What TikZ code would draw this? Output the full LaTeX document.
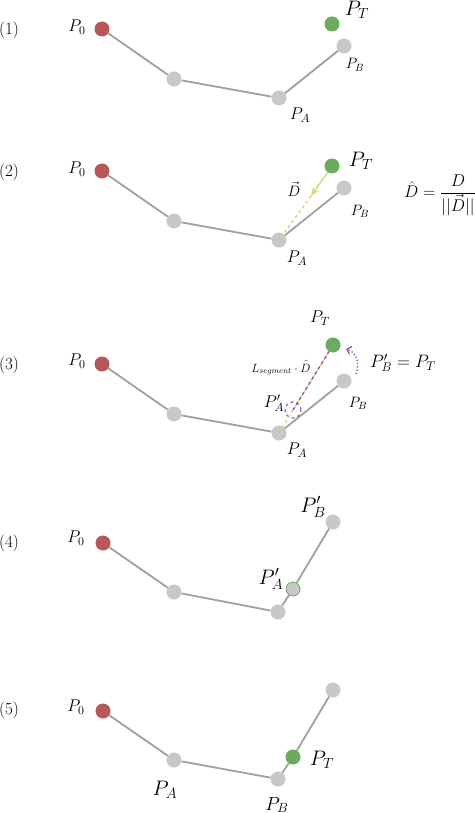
\RequirePackage{fix-cm}
\documentclass[tikz,border=0pt]{standalone}
\usetikzlibrary{arrows.meta}
\definecolor{basered}{RGB}{181,88,88}
\definecolor{goalgreen}{RGB}{108,170,96}
\definecolor{jointgray}{RGB}{200,200,200}
\definecolor{linkgray}{RGB}{160,160,160}
\definecolor{diryellow}{RGB}{224,214,108}
\definecolor{stepviolet}{RGB}{140,82,190}
\tikzset{
	joint/.style={circle, fill=jointgray, minimum size=15pt, inner sep=0pt},
	basejoint/.style={joint, fill=basered},
	goal/.style={joint, fill=goalgreen},
	link/.style={draw=linkgray, line width=1.8pt},
	lbl/.style={inner sep=0pt, font=\fontsize{17}{19}\selectfont},
	lblsmall/.style={lbl, font=\fontsize{15}{17}\selectfont},
	lblbig/.style={lbl, font=\fontsize{21}{23}\selectfont}
}

\begin{document}
\begin{tikzpicture}[x=1pt, y=-1pt]
	%%%%% START %%%%%
	\useasboundingbox (0, 0) rectangle (474, 813);
	
	% (1)
	\node[lbl] (n1) at (9, 30) {(1)};
	\node[basejoint] (a0) at (102, 29) {};
	\node[joint] (a1) at (174, 79) {};
	\node[joint] (aA) at (279, 98) {};
	\node[joint] (aB) at (344, 46) {};
	\node[goal] (aT) at (332, 24) {};
	\draw[link] (a0) -- (a1) -- (aA) -- (aB);
	\node[lbl] (la0) at (77, 27) {$P_0$};
	\node[lblbig] (laT) at (357, 10) {$P_T$};
	\node[lblsmall] (laB) at (355, 65) {$P_B$};
	\node[lbl] (laA) at (300, 115) {$P_A$};
	
	% (2)
	\node[lbl] (n2) at (9, 172) {(2)};
	\node[basejoint] (b0) at (102, 171) {};
	\node[joint] (b1) at (174, 221) {};
	\node[joint] (bA) at (279, 240) {};
	\node[joint] (bB) at (344, 188) {};
	\node[goal] (bT) at (332, 166) {};
	\draw[link] (b0) -- (b1) -- (bA) -- (bB);
	\coordinate (bD) at (311, 196);
	\draw[diryellow, line width=1.4pt, -{Stealth[length=9pt, width=7pt]}] (bT) -- (bD);
	\draw[diryellow, line width=1.4pt, dashed] (bD) -- (bA.center);
	\node[lbl] (lb0) at (77, 169) {$P_0$};
	\node[lblsmall] (lbD) at (294, 189) {$\vec{D}$};
	\node[lblbig] (lbT) at (361, 161) {$P_T$};
	\node[lblsmall] (lbB) at (360, 211) {$P_B$};
	\node[lbl] (lbA) at (297, 258) {$P_A$};
	\node[lbl, font=\fontsize{17}{19}\selectfont] (form) at (440, 195) {$\displaystyle \hat{D} = \frac{D}{||\vec{D}||}$};
	
	% (3)
	\node[lbl] (n3) at (9, 365) {(3)};
	\node[basejoint] (c0) at (102, 364) {};
	\node[joint] (c1) at (174, 414) {};
	\node[joint] (cA) at (279, 433) {};
	\node[joint] (cB) at (344, 381) {};
	\node[goal] (cT) at (333, 345) {};
	\draw[link] (c0) -- (c1) -- (cA) -- (cB);
	\node[circle, draw=stepviolet, dashed, line width=1.1pt, minimum size=16pt, inner sep=0pt] (cAn) at (293, 410) {};
	\draw[diryellow, line width=1.3pt, dashed] (cA.center) -- (cAn.center);
	\draw[diryellow, line width=1.3pt] (cAn.center) -- (cT);
	\draw[stepviolet, line width=1.3pt, dashed] (cAn.center) -- (cT);
	\coordinate (cs) at (356, 374);
	\coordinate (ce) at (346, 349);
	\draw[stepviolet, line width=1.3pt, dotted, -{Straight Barb[length=4pt, width=8pt]}] (cs) .. controls (360, 362) and (356, 352) .. (ce);
	\node[lbl] (lc0) at (77, 361) {$P_0$};
	\node[lbl] (lcT) at (320, 318) {$P_T$};
	\node[lbl, font=\fontsize{12}{14}\selectfont] (lcL) at (281, 368) {$L_{segment} \cdot \hat{D}$};
	\node[lbl, font=\fontsize{18}{20}\selectfont] (lcBn) at (403, 363) {$P'_B = P_T$};
	\node[lbl] (lcAn) at (274, 403) {$P'_A$};
	\node[lblsmall] (lcB) at (358, 403) {$P_B$};
	\node[lbl] (lcA) at (297, 450) {$P_A$};
	
	% (4)
	\node[lbl] (n4) at (9, 543) {(4)};
	\node[basejoint] (d0) at (103, 543) {};
	\node[joint] (d1) at (174, 592) {};
	\node[joint] (dA) at (278, 612) {};
	\node[joint, draw=goalgreen, line width=0.8pt, minimum size=14pt] (dAn) at (293, 589) {};
	\node[joint] (dBn) at (333, 522) {};
	\draw[link] (d0) -- (d1) -- (dA) -- (dAn) -- (dBn);
	\node[lbl] (ld0) at (76, 538) {$P_0$};
	\node[lblbig] (ldAn) at (271, 579) {$P'_A$};
	\node[lblbig] (ldBn) at (313, 507) {$P'_B$};
	
	% (5)
	\node[lbl] (n5) at (9, 710) {(5)};
	\node[basejoint] (e0) at (103, 711) {};
	\node[joint] (e1) at (174, 760) {};
	\node[joint] (eB) at (278, 779) {};
	\node[goal] (eT) at (293, 757) {};
	\node[joint] (eE) at (333, 690) {};
	\draw[link] (e0) -- (e1) -- (eB) -- (eT) -- (eE);
	\node[lbl] (le0) at (76, 707) {$P_0$};
	\node[lblbig] (leA) at (165, 790) {$P_A$};
	\node[lbl, font=\fontsize{19}{21}\selectfont] (leB) at (277, 805) {$P_B$};
	\node[lblbig] (leT) at (322, 760) {$P_T$};
	%%%%% END %%%%%
\end{tikzpicture}
\end{document}
